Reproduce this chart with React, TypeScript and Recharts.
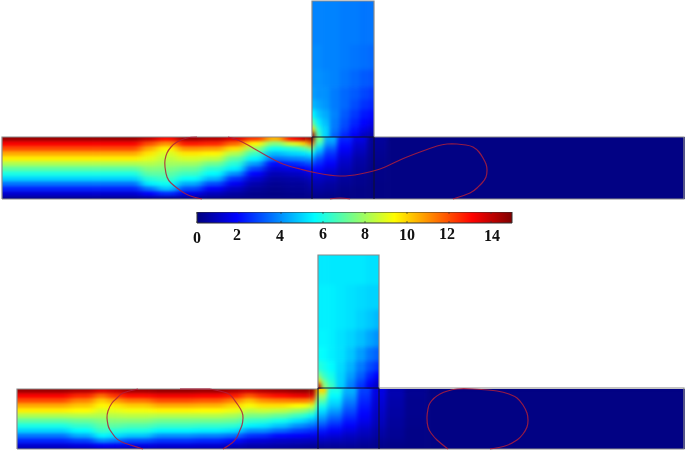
import { ComposedChart, ScatterChart, Scatter, XAxis, YAxis, ReferenceArea } from "recharts";

// colour scale
const scaleMax = 15;
const scaleTicks = [0, 2, 4, 6, 8, 10, 12, 14];
const scaleStops = [0, 1.9, 5.6, 9.4, 13.1, 15];
// the pasted labels in the picture sit a little off their ticks
const scaleLabelDx = [0, -2, -1, 0, 0, 0, -2, 1];
const scaleLabelDy = [3, 0, 1, -1, -1, 0, -1, 1];

// top geometry, speed listed per column from wall to wall
const topChannelRows = [139, 144, 149, 154, 159, 164, 169, 174, 179, 184, 189, 194, 199];
const topChannelCols = [60, 133, 150, 165, 190, 215, 235, 255, 275, 295, 305, 312, 318, 330, 345, 360, 375, 400];
const topChannelSpeed = [
  [14.6, 13.2, 12, 10.6, 9.6, 8.2, 7, 6, 5, 3.6, 2.4, 1.2, 0.2],
  [14.6, 13.2, 12, 10.6, 9.6, 8.2, 7, 6, 5, 3.6, 2.4, 1.2, 0.2],
  [14, 12, 10.6, 9.7, 9, 8.3, 7.6, 7, 6.2, 5.4, 3.6, 1.8, 0.2],
  [13, 11, 9.5, 8.8, 8.4, 8, 7.5, 7, 6.5, 5.8, 4.8, 2.5, 0.2],
  [14.5, 12.8, 11, 9.7, 8.8, 8, 7.2, 6.5, 5.7, 4.4, 3, 1.5, 0.2],
  [14.2, 12.6, 10.8, 9.5, 8.5, 7.3, 6.3, 5.6, 4.6, 3, 1.8, 0.9, 0.1],
  [13.6, 11.6, 9.8, 8.2, 7, 6.2, 5.4, 4, 2.6, 1.7, 1, 0.5, 0.1],
  [12.3, 9.5, 7.8, 6.5, 5.5, 4.2, 2.9, 1.9, 1.2, 0.7, 0.4, 0.2, 0.1],
  [10.5, 7.5, 5.8, 4.6, 3.5, 2, 1.3, 0.8, 0.5, 0.3, 0.2, 0.1, 0.1],
  [13, 8.8, 6.2, 5, 3.8, 2.4, 1.5, 1, 0.6, 0.4, 0.3, 0.2, 0.1],
  [14, 10, 6.8, 5.2, 4, 2.8, 1.8, 1.1, 0.7, 0.4, 0.3, 0.2, 0.1],
  [14.8, 11.5, 7.6, 5.6, 4.2, 3, 2.1, 1.5, 1, 0.7, 0.5, 0.3, 0.1],
  [7.5, 6.5, 5, 4, 3, 2.4, 1.9, 1.4, 1, 0.7, 0.5, 0.3, 0.1],
  [4.5, 4, 3.2, 2.6, 2.2, 1.8, 1.4, 1, 0.8, 0.5, 0.4, 0.2, 0.1],
  [2.4, 2.1, 1.8, 1.5, 1.2, 1, 0.8, 0.6, 0.4, 0.3, 0.2, 0.1, 0.1],
  [1.5, 1.2, 1, 0.8, 0.6, 0.5, 0.4, 0.3, 0.2, 0.2, 0.1, 0.1, 0.1],
  [0.4, 0.35, 0.3, 0.25, 0.2, 0.15, 0.1, 0.1, 0.1, 0.05, 0.05, 0.05, 0.05],
  [0.05, 0.05, 0.05, 0.05, 0.05, 0.05, 0.05, 0.05, 0.05, 0.05, 0.05, 0.05, 0.05],
];
const topInletRows = [30, 60, 80, 95, 105, 115, 123, 130, 135];
const topInletCols = [313, 318, 325, 335, 345, 355, 365, 372];
const topInletSpeed = [
  [3.8, 3.9, 4, 4.2, 4.6, 5.6, 7, 10, 14.5],
  [3.8, 3.9, 4, 4, 4.3, 4.8, 5.4, 6.2, 6.8],
  [3.8, 3.8, 3.9, 4, 4.1, 4.4, 4.7, 5, 5],
  [3.8, 3.8, 3.8, 3.7, 3.7, 3.8, 3.7, 3.6, 3.3],
  [3.7, 3.7, 3.6, 3.4, 3.4, 3.2, 3, 2.8, 2.4],
  [3.7, 3.6, 3.4, 3.2, 3, 2.7, 2.4, 2.1, 1.7],
  [3.6, 3.5, 3.2, 2.9, 2.6, 2.2, 1.9, 1.5, 1],
  [3.6, 3.4, 3.1, 2.7, 2.4, 2, 1.6, 1.1, 0.7],
];

// bottom geometry
const bottomChannelRows = [391, 396, 401, 406, 411, 416, 421, 426, 431, 436, 441, 446, 451];
const bottomChannelCols = [50, 90, 100, 115, 130, 175, 215, 235, 250, 262, 280, 300, 312, 320, 335, 350, 365, 378, 395, 415, 440];
const bottomChannelSpeed = [
  [14.6, 13.2, 12, 10.6, 9.6, 8.2, 7, 6, 5, 3.6, 2.4, 1.2, 0.2],
  [14.3, 12.6, 11.2, 10.2, 9.4, 8.3, 7.2, 6.4, 5.6, 4.4, 2.8, 1.4, 0.2],
  [13.6, 11.4, 10, 9.4, 8.8, 8.2, 7.5, 7, 6.5, 5.6, 4, 1.8, 0.2],
  [14, 12.4, 10.8, 9.7, 9, 8.3, 7.6, 7, 6.2, 5.2, 3.6, 1.7, 0.2],
  [14.5, 13, 11.4, 10.1, 9.2, 8.4, 7.6, 6.8, 6, 4.8, 3, 1.5, 0.2],
  [14.7, 13.3, 12, 10.6, 9.5, 8.3, 7.3, 6.5, 5.5, 4, 2.6, 1.3, 0.2],
  [14.6, 13.2, 11.8, 10.5, 9.4, 8.3, 7.3, 6.4, 5.4, 3.8, 2.4, 1.2, 0.2],
  [14.3, 12.8, 11.2, 10, 9.1, 8.1, 7.2, 6.3, 5.2, 3.5, 2, 1, 0.1],
  [13.9, 11.8, 10.2, 9.3, 8.4, 7.4, 6.4, 5.5, 4, 2.6, 1.4, 0.7, 0.1],
  [14.3, 12.6, 11, 9.8, 8.6, 7.4, 6.3, 5.3, 4, 2.5, 1.3, 0.7, 0.1],
  [14.5, 13, 11.2, 9.8, 8.4, 7.1, 5.9, 4.8, 3.4, 2, 1.1, 0.6, 0.1],
  [14.7, 13.4, 11.3, 9.4, 7.9, 6.5, 5.2, 4, 2.8, 1.8, 1, 0.5, 0.1],
  [14.8, 13.6, 11.2, 9, 7.3, 5.8, 4.6, 3.5, 2.5, 1.6, 0.9, 0.4, 0.1],
  [10, 8, 7, 6, 5.2, 4.5, 3.8, 3, 2.2, 1.5, 0.9, 0.4, 0.1],
  [6, 5.6, 5.2, 4.8, 4.2, 3.6, 3, 2.4, 1.8, 1.3, 0.8, 0.4, 0.1],
  [4.5, 4.2, 3.8, 3.4, 3, 2.6, 2.2, 1.8, 1.4, 1, 0.7, 0.4, 0.1],
  [2.8, 2.6, 2.4, 2.2, 2, 1.8, 1.6, 1.3, 1, 0.8, 0.5, 0.3, 0.1],
  [1.5, 1.4, 1.3, 1.2, 1.1, 1, 0.9, 0.8, 0.6, 0.5, 0.3, 0.2, 0.1],
  [0.7, 0.7, 0.6, 0.6, 0.5, 0.5, 0.4, 0.4, 0.3, 0.3, 0.2, 0.1, 0.1],
  [0.25, 0.25, 0.2, 0.2, 0.2, 0.2, 0.15, 0.15, 0.1, 0.1, 0.1, 0.05, 0.05],
  [0.05, 0.05, 0.05, 0.05, 0.05, 0.05, 0.05, 0.05, 0.05, 0.05, 0.05, 0.05, 0.05],
];
const bottomInletRows = [270, 300, 320, 340, 355, 368, 376, 382, 386];
const bottomInletCols = [319, 324, 331, 341, 351, 361, 371, 377];
const bottomInletSpeed = [
  [5.3, 5.4, 5.4, 5.5, 5.7, 6.2, 7.4, 10, 14],
  [5.3, 5.4, 5.4, 5.5, 5.6, 5.9, 6.4, 7.2, 7.8],
  [5.3, 5.4, 5.4, 5.4, 5.4, 5.6, 5.9, 6.2, 6.5],
  [5.3, 5.3, 5.3, 5.2, 5.2, 5.1, 5, 5, 4.9],
  [5.3, 5.2, 5.2, 5, 4.8, 4.5, 4.2, 3.9, 3.7],
  [5.3, 5.1, 5, 4.7, 4.2, 3.7, 3.3, 2.9, 2.6],
  [5.2, 5, 4.8, 4.3, 3.6, 3, 2.4, 2, 1.6],
  [5.2, 5, 4.6, 4, 3.3, 2.6, 1.9, 1.3, 1],
];

// interface outlines and walls, as [x, y]
const topBubbleLeft = [[197, 137], [187, 138], [177, 142], [171, 147], [167, 153], [165, 160], [165, 167], [167, 177], [171, 183], [177, 188], [188, 195], [202, 199]];
const topBubbleRight = [[228, 137], [240, 141], [253, 148], [267, 156], [283, 164], [300, 169], [317, 173], [340, 176], [360, 174], [380, 169], [400, 160], [420, 152], [437, 146], [447, 144], [457, 144], [466, 145], [473, 147], [479, 152], [483, 158], [486, 164], [487, 170], [486, 177], [482, 183], [477, 188], [470, 193], [453, 199]];
const topBubbleFoot = [[330, 199], [340, 198], [350, 199]];
const bottomBubbleLeft = [[138, 389], [123, 393], [117, 398], [112, 403], [108, 411], [107, 418], [108, 425], [110, 430], [115, 437], [122, 442], [143, 449]];
const bottomBubbleRight = [[210, 389], [227, 393], [233, 398], [238, 405], [242, 412], [243, 418], [242, 425], [240, 430], [237, 437], [232, 443], [223, 449]];
const bottomBubbleTop = [[180, 389], [210, 389]];
const tailBubble = [[448, 449], [437, 440], [431, 433], [428, 427], [427, 417], [428, 409], [430, 403], [440, 394], [457, 389], [473, 389], [497, 391], [509, 394], [517, 398], [523, 405], [527, 413], [528, 420], [527, 427], [523, 434], [517, 440], [505, 446], [490, 449]];
const topWalls = [[2, 199], [2, 137], [312, 137], [312, 1], [374, 1], [374, 137], [684, 137], [684, 199], [2, 199]];
const bottomWalls = [[17, 449], [17, 389], [318, 389], [318, 255], [379, 255], [379, 388], [684, 388], [684, 449], [17, 449]];
const topJunction = [[312, 199], [312, 137], [374, 137], [374, 199]];
const bottomJunction = [[318, 449], [318, 388], [379, 388], [379, 449]];

const clamp = (n: number) => Math.max(0, Math.min(1, n));
function jet(v: number) {
  const t = v / scaleMax;
  const c = (k: number) => Math.round(clamp(Math.min(4 * t - k + 0.5, -4 * t + k + 2.5)) * 255);
  return `rgb(${c(2)},${c(1)},${c(0)})`;
}

interface FieldCell {
  x: number;
  y: number;
  w: number;
  h: number;
  speed: number;
}

// each cell runs to the midpoints of its neighbours, outer ones run past the walls
function edges(stations: number[]) {
  return stations.map((s, i) => [
    i === 0 ? s - 100 : (stations[i - 1] + s) / 2,
    i === stations.length - 1 ? s + 320 : (s + stations[i + 1]) / 2,
  ]);
}

function buildCells(cols: number[], rows: number[], speed: number[][]): FieldCell[] {
  const colEdges = edges(cols);
  const rowEdges = edges(rows).map(([a, b], i) => [i === 0 ? rows[0] - 40 : a, i === rows.length - 1 ? rows[i] + 40 : b]);
  return cols.flatMap((_, c) =>
    rows.map((_, r) => ({
      x: (colEdges[c][0] + colEdges[c][1]) / 2,
      y: (rowEdges[r][0] + rowEdges[r][1]) / 2,
      w: colEdges[c][1] - colEdges[c][0] + 0.6,
      h: rowEdges[r][1] - rowEdges[r][0] + 0.6,
      speed: speed[c][r],
    }))
  );
}

const pad = 60;

function CellShape(props: any) {
  const { cx, cy, payload } = props;
  return <rect x={cx - payload.w / 2} y={cy - payload.h / 2} width={payload.w} height={payload.h} fill={jet(payload.speed)} />;
}

function Field({ cells, clip, filter }: { cells: FieldCell[]; clip: string; filter: string }) {
  return (
    <div style={{ position: "absolute", left: 0, top: 0, width: 685, height: 452, clipPath: clip }}>
      <div style={{ position: "absolute", left: -pad, top: -pad, filter: `url(#${filter})` }}>
        <ScatterChart width={685 + 2 * pad} height={452 + 2 * pad} margin={{ top: 0, right: 0, bottom: 0, left: 0 }}>
          <XAxis type="number" dataKey="x" domain={[-pad, 685 + pad]} allowDataOverflow hide />
          <YAxis type="number" dataKey="y" domain={[-pad, 452 + pad]} allowDataOverflow reversed hide />
          <Scatter data={cells} shape={CellShape} isAnimationActive={false} />
        </ScatterChart>
      </div>
    </div>
  );
}

const NoDot = () => <g />;

function outline(points: number[][], stroke: string, width: number, smooth: boolean, opacity = 1) {
  return (
    <Scatter
      data={points.map(([x, y]) => ({ x, y }))}
      line={{ stroke, strokeWidth: width, strokeOpacity: opacity }}
      lineType="joint"
      lineJointType={smooth ? "natural" : "linear"}
      shape={NoDot}
      isAnimationActive={false}
    />
  );
}

function ScaleTick(props: any) {
  const { x, y, payload, index } = props;
  return (
    <text x={x + scaleLabelDx[index]} y={y} dy={9 + scaleLabelDy[index]} textAnchor="middle" fontFamily="Liberation Serif" fontWeight="bold" fontSize={16} fill="#111">
      {payload.value}
    </text>
  );
}

function ScaleMark(props: any) {
  const { cx, cy } = props;
  return (
    <g stroke="#333" strokeWidth={1} strokeOpacity={0.7}>
      <line x1={cx} x2={cx} y1={cy} y2={cy + 2} />
      <line x1={cx} x2={cx} y1={cy + 9} y2={cy + 11} />
    </g>
  );
}

const red = "#b01f3a";
const wall = "#8a8a8a";
const ink = "#10102a";
const bubbles = [topBubbleLeft, topBubbleRight, topBubbleFoot, bottomBubbleLeft, bottomBubbleRight, bottomBubbleTop, tailBubble];

export default function App() {
  return (
    <div style={{ position: "absolute", left: 0, top: 0, width: 685, height: 452, overflow: "hidden", background: "#fff" }}>
      <svg width={0} height={0} style={{ position: "absolute" }}>
        <defs>
          <filter id="softChannel" x="-5%" y="-5%" width="110%" height="110%" colorInterpolationFilters="sRGB">
            <feGaussianBlur stdDeviation="5 1.8" />
          </filter>
          <filter id="softInlet" x="-5%" y="-5%" width="110%" height="110%" colorInterpolationFilters="sRGB">
            <feGaussianBlur stdDeviation="2.2" />
          </filter>
          <linearGradient id="jetBar" x1="0" y1="0" x2="1" y2="0">
            {scaleStops.map((v) => (
              <stop key={v} offset={v / scaleMax} stopColor={jet(v)} />
            ))}
          </linearGradient>
        </defs>
      </svg>

      <Field cells={buildCells(topChannelCols, topChannelRows, topChannelSpeed)} clip="inset(137px 380px 253px 2px)" filter="softChannel" />
      <Field cells={buildCells(topChannelCols, topChannelRows, topChannelSpeed)} clip="inset(137px 0px 253px 305px)" filter="softInlet" />
      <Field cells={buildCells(topInletCols, topInletRows, topInletSpeed)} clip="inset(1px 311px 315px 312px)" filter="softInlet" />
      <Field cells={buildCells(bottomChannelCols, bottomChannelRows, bottomChannelSpeed)} clip="inset(389px 375px 3px 17px)" filter="softChannel" />
      <Field cells={buildCells(bottomChannelCols, bottomChannelRows, bottomChannelSpeed)} clip="inset(389px 0px 3px 310px)" filter="softInlet" />
      <Field cells={buildCells(bottomInletCols, bottomInletRows, bottomInletSpeed)} clip="inset(255px 306px 63px 318px)" filter="softInlet" />

      <div style={{ position: "absolute", left: 0, top: 0, filter: "blur(0.35px)" }}>
        <ComposedChart width={685} height={452} margin={{ top: 0, right: 0, bottom: 0, left: 0 }}>
          <XAxis type="number" dataKey="x" domain={[0, 685]} allowDataOverflow hide />
          <YAxis type="number" dataKey="y" domain={[0, 452]} allowDataOverflow reversed hide />
          {outline(topWalls, wall, 1.2, false)}
          {outline(bottomWalls, wall, 1.2, false)}
          {outline(topJunction, ink, 1, false)}
          {outline(bottomJunction, ink, 1, false)}
          {bubbles.map((b, i) => (
            <Scatter
              key={i}
              data={b.map(([x, y]) => ({ x, y }))}
              line={{ stroke: red, strokeWidth: 1.2, strokeOpacity: 0.85 }}
              lineType="joint"
              lineJointType="natural"
              shape={NoDot}
              isAnimationActive={false}
            />
          ))}
        </ComposedChart>
      </div>

      <div style={{ position: "absolute", left: 177, top: 212, filter: "blur(0.4px)" }}>
        <ScatterChart width={355} height={40} margin={{ top: 0, right: 20, bottom: 0, left: 20 }}>
          <XAxis type="number" dataKey="v" domain={[0, scaleMax]} ticks={scaleTicks} interval={0} height={29} axisLine={false} tickLine={false} tick={ScaleTick} />
          <YAxis type="number" dataKey="y" domain={[0, 1]} hide />
          <ReferenceArea x1={0} x2={scaleMax} y1={0} y2={1} fill="url(#jetBar)" fillOpacity={1} stroke="#333" strokeWidth={1} ifOverflow="visible" />
          <Scatter data={scaleTicks.map((v) => ({ v, y: 1 }))} shape={ScaleMark} isAnimationActive={false} />
        </ScatterChart>
      </div>
    </div>
  );
}
